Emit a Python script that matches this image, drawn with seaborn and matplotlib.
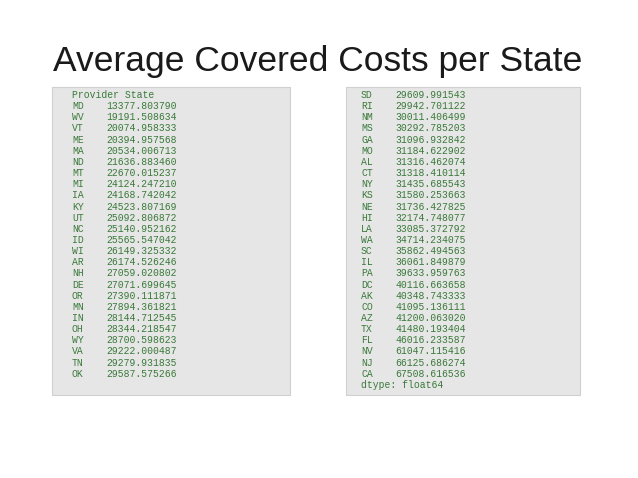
import matplotlib
matplotlib.use("Agg")
import matplotlib.pyplot as plt
import seaborn as sns
from matplotlib.patches import Rectangle

sns.set_style("white")

states_left = ["MD","WV","VT","ME","MA","ND","MT","MI","IA","KY","UT","NC","ID","WI","AR","NH","DE","OR","MN","IN","OH","WY","VA","TN","OK"]
values_left = ["13377.803790","19191.508634","20074.958333","20394.957568","20534.006713","21636.883460","22670.015237","24124.247210","24168.742042","24523.807169","25092.806872","25140.952162","25565.547042","26149.325332","26174.526246","27059.020802","27071.699645","27390.111871","27894.361821","28144.712545","28344.218547","28700.598623","29222.000487","29279.931835","29587.575266"]
states_right = ["SD","RI","NM","MS","GA","MO","AL","CT","NY","KS","NE","HI","LA","WA","SC","IL","PA","DC","AK","CO","AZ","TX","FL","NV","NJ","CA"]
values_right = ["29609.991543","29942.701122","30011.406499","30292.785203","31096.932842","31184.622902","31316.462074","31318.410114","31435.685543","31580.253663","31736.427825","32174.748077","33085.372792","34714.234075","35862.494563","36061.849879","39633.959763","40116.663658","40348.743333","41095.136111","41200.063020","41480.193404","46016.233587","61047.115416","66125.686274","67508.616536"]

W, H = 638, 478
fig = plt.figure(figsize=(6.38, 4.78), dpi=100)
fig.patch.set_facecolor("white")

def fx(x): return x / W
def fy(y): return 1 - y / H

fig.text(fx(318), fy(62), "Average Covered Costs per State", ha="center", va="center",
         fontsize=25.5, family="Liberation Sans", color="#1a1a1a")

for (x0, x1) in [(52, 290), (346, 580)]:
    fig.patches.append(Rectangle((fx(x0), fy(395)), fx(x1) - fx(x0), (395 - 87) / H,
                                 transform=fig.transFigure, facecolor="#e6e6e6",
                                 edgecolor="#d0d0d0", linewidth=0.8))

col = "#3a7a3a"
kw = dict(fontsize=7.0, family="Liberation Mono", color=col, va="center", ha="left")
step = 11.15
y0 = 95
fig.text(fx(72), fy(y0), "Provider State", **kw)
for i, (s, v) in enumerate(zip(states_left, values_left)):
    y = y0 + (i + 1) * step
    fig.text(fx(72), fy(y), s, **kw)
    fig.text(fx(106), fy(y), v, **kw)
for i, (s, v) in enumerate(zip(states_right, values_right)):
    y = y0 + i * step
    fig.text(fx(361), fy(y), s, **kw)
    fig.text(fx(395), fy(y), v, **kw)
fig.text(fx(361), fy(y0 + len(states_right) * step), "dtype: float64", **kw)

fig.savefig("out.png", dpi=100)
